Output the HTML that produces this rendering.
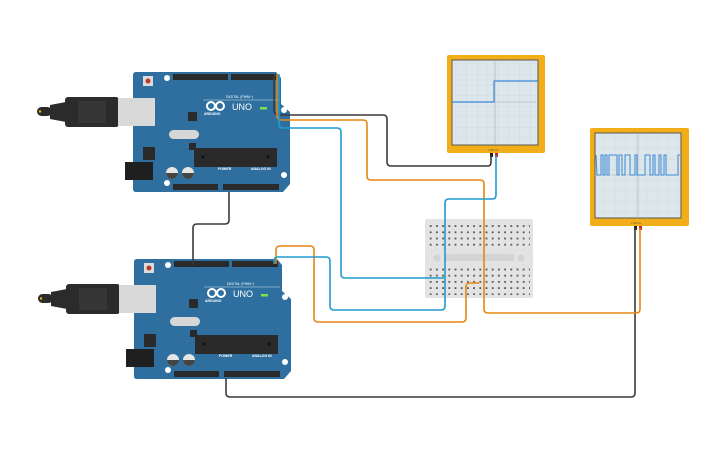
<!DOCTYPE html>
<html><head><meta charset="utf-8"><style>
html,body{margin:0;padding:0;background:#fff}
svg{display:block}
text{font-family:"Liberation Sans",sans-serif}
</style></head><body>
<svg width="725" height="453" viewBox="0 0 725 453" xmlns="http://www.w3.org/2000/svg">
<defs>
<g id="ard">
  <!-- board -->
  <path d="M0,3 Q0,0 3,0 L143,0 L148,6 L148,32 L157,40 L157,112 L150,120 L3,120 Q0,120 0,117 Z" fill="#2f6f9f"/>
  <rect x="10" y="4" width="10" height="10" fill="#dcdcdc"/><circle cx="15" cy="9" r="2.5" fill="#b73a24"/>
  <circle cx="34" cy="6" r="3" fill="#fff"/>
  <rect x="40" y="2" width="55" height="6" fill="#2a2a2a"/>
  <rect x="98" y="2" width="46" height="6" fill="#2a2a2a"/>
  <rect x="40" y="112" width="45" height="6" fill="#2a2a2a"/>
  <rect x="90" y="112" width="56" height="6" fill="#2a2a2a"/>
  <line x1="70" y1="28" x2="146" y2="28" stroke="#cfe0ee" stroke-width="0.6"/>
  <text x="93" y="26" font-size="3.5" fill="#fff">DIGITAL (PWM~)</text>
  <circle cx="78" cy="34" r="4" fill="none" stroke="#fff" stroke-width="2"/>
  <circle cx="87" cy="34" r="4" fill="none" stroke="#fff" stroke-width="2"/>
  <text x="71" y="43" font-size="3.5" font-weight="bold" fill="#fff">ARDUINO</text>
  <text x="99" y="38" font-size="9" fill="#fff">UNO</text>
  <rect x="127" y="35" width="7" height="2.5" fill="#7fe04a"/>
  <circle cx="151" cy="38" r="3" fill="#fff"/>
  <rect x="55" y="40" width="9" height="9" fill="#2a2a2a"/>
  <rect x="36" y="58" width="30" height="9" rx="4.5" fill="#d7d7d7"/>
  <rect x="56" y="71" width="7" height="7" fill="#2a2a2a"/>
  <rect x="10" y="75" width="12" height="13" fill="#2a2a2a"/>
  <rect x="62" y="84" width="6" height="6" fill="#2a2a2a"/>
  <rect x="61" y="76" width="83" height="19" fill="#2a2a2a"/>
  <circle cx="70" cy="85" r="1.5" fill="#111"/><circle cx="135" cy="85" r="1.5" fill="#111"/>
  <rect x="-8" y="90" width="28" height="18" fill="#1f1f1f"/>
  <circle cx="39" cy="101" r="6" fill="#e6e6e6"/><path d="M33,101 A6,6 0 0 0 45,101 Z" fill="#444"/>
  <circle cx="55" cy="101" r="6" fill="#e6e6e6"/><path d="M49,101 A6,6 0 0 0 61,101 Z" fill="#444"/>
  <text x="85" y="98" font-size="3.5" font-weight="bold" fill="#fff">POWER</text>
  <text x="118" y="98" font-size="3.5" font-weight="bold" fill="#fff">ANALOG IN</text>
  <circle cx="34" cy="111" r="3" fill="#fff"/>
  <circle cx="151" cy="103" r="3" fill="#fff"/>
  <!-- USB -->
  <rect x="-96" y="35" width="15" height="9" rx="4.5" fill="#2b2b2b"/>
  <path d="M-83,33 L-67,30 L-67,50 L-83,47 Z" fill="#2b2b2b"/>
  <rect x="-68" y="25" width="54" height="30" rx="3" fill="#2b2b2b"/>
  <rect x="-55" y="29" width="28" height="22" fill="#363636"/>
  <rect x="-15" y="26" width="37" height="28" fill="#d9d9d9"/>
  <circle cx="-93" cy="39.5" r="1.2" fill="#e8c400"/>
</g>
<pattern id="grid" width="10.6" height="10.6" patternUnits="userSpaceOnUse">
  <path d="M10.6,0 L0,0 0,10.6" fill="none" stroke="#c3d0d8" stroke-width="0.5"/>
</pattern>
<pattern id="holes" width="6.2" height="6.2" patternUnits="userSpaceOnUse">
  <rect x="2" y="2" width="1.8" height="1.8" fill="#555"/>
</pattern>
</defs>

<use href="#ard" x="133" y="72"/>
<use href="#ard" x="134" y="259"/>

<!-- breadboard -->
<rect x="425" y="219" width="108" height="79" rx="2" fill="#e3e3e3"/>
<rect x="428" y="222" width="102" height="28" fill="url(#holes)"/>
<rect x="428" y="265" width="102" height="30" fill="url(#holes)"/>
<rect x="444" y="254" width="70" height="7" fill="#d4d4d4"/>
<circle cx="437" cy="258" r="3.5" fill="#d4d4d4"/><circle cx="521" cy="258" r="3.5" fill="#d4d4d4"/>

<!-- scope 1 -->
<rect x="447" y="55" width="98" height="98" rx="2" fill="#f2ae18"/>
<rect x="452" y="60" width="86" height="85" fill="#dde6ea" stroke="#555" stroke-width="1"/>
<rect x="452" y="60" width="86" height="85" fill="url(#grid)"/>
<line x1="495" y1="60" x2="495" y2="145" stroke="#aab" stroke-width=".6"/>
<line x1="452" y1="102" x2="538" y2="102" stroke="#aab" stroke-width=".6"/>
<path d="M452,102 L494,102 L494,81 L538,81" fill="none" stroke="#3a8ad6" stroke-width="1.2"/>
<text x="488" y="151" font-size="2.5" fill="#555">1.000 ms</text>
<rect x="490" y="153" width="3" height="4" fill="#222"/><rect x="495" y="153" width="3" height="4" fill="#c22"/>

<!-- scope 2 -->
<rect x="590" y="128" width="99" height="98" rx="2" fill="#f2ae18"/>
<rect x="595" y="133" width="86" height="85" fill="#dde6ea" stroke="#555" stroke-width="1"/>
<rect x="595" y="133" width="86" height="85" fill="url(#grid)"/>
<line x1="638" y1="133" x2="638" y2="218" stroke="#aab" stroke-width=".6"/>
<line x1="595" y1="175" x2="681" y2="175" stroke="#aab" stroke-width=".6"/>
<path d="M596,155 L597,175 L601,175 L601,155 L603,155 L603,175 L605,175 L605,155 L607,155 L607,175 L609,175 L609,155 L617,155 L617,175 L619,175 L619,155 L622,155 L622,175 L625,175 L625,155 L630,155 L630,175 L635,175 L635,155 L637,155 L637,175 L645,175 L645,155 L650,155 L650,175 L653,175 L653,155 L655,155 L655,175 L659,175 L659,155 L661,155 L661,175 L664,175 L664,155 L666,155 L666,175 L678,175 L678,155 L680,155" fill="none" stroke="#3a8ad6" stroke-width="1"/>
<text x="631" y="224" font-size="2.5" fill="#555">1.000 ms</text>
<rect x="634" y="226" width="3" height="4" fill="#222"/><rect x="639" y="226" width="3" height="4" fill="#c22"/>

<!-- wires -->
<g fill="none" stroke-width="1.6" stroke-linejoin="round">
<path d="M229,192 L229,220 Q229,224 225,224 L197,224 Q193,224 193,228 L193,265" stroke="#3a3a3a"/>
<path d="M274,74 L274,110 Q274,115 279,115 L383,115 Q387,115 387,119 L387,162 Q387,166 391,166 L488,166 Q491,166 491,162 L491,155" stroke="#3a3a3a"/>
<path d="M226,378 L226,393 Q226,397 230,397 L631,397 Q635,397 635,393 L635,228" stroke="#3a3a3a"/>
<path d="M277,74 L277,115 Q277,120 282,120 L363,120 Q367,120 367,124 L367,176 Q367,180 371,180 L480,180 Q484,180 484,184 L484,309 Q484,313 488,313 L636,313 Q640,313 640,309 L640,228" stroke="#e8860f"/>
<path d="M276,264 L276,250 Q276,246 280,246 L310,246 Q314,246 314,250 L314,318 Q314,322 318,322 L462,322 Q466,322 466,318 L466,287 Q466,283 470,283 L479,283" stroke="#e8860f"/>
<path d="M279,74 L279,124 Q279,128 283,128 L337,128 Q341,128 341,132 L341,274 Q341,278 345,278 L444,278" stroke="#1e9bd0"/>
<path d="M496,155 L496,195 Q496,199 492,199 L449,199 Q445,199 445,203 L445,306 Q445,310 441,310 L334,310 Q330,310 330,306 L330,261 Q330,257 326,257 L278,257 Q274,257 274,261 L274,264" stroke="#1e9bd0"/>
</g>
</svg>
</body></html>
